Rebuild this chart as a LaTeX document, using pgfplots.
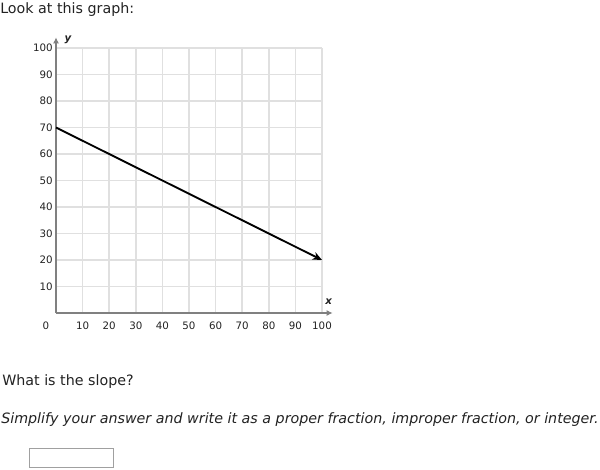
\documentclass[border=0pt]{standalone}
\usepackage{fontspec}
\setmainfont{DejaVu Sans}
\usepackage{pgfplots}
\pgfplotsset{compat=1.18}
\usetikzlibrary{arrows.meta}
\definecolor{gridc}{HTML}{E0E0E0}
\definecolor{axc}{HTML}{808080}
\definecolor{boxc}{HTML}{A0A0A0}
\definecolor{txt}{HTML}{222222}
\begin{document}
\begin{tikzpicture}[x=0.75pt,y=-0.75pt]
\path[use as bounding box] (0,0) rectangle (600,469);
\node[anchor=base west,inner sep=0pt,text=txt,font=\fontsize{10.7}{12}\selectfont] at (0,13) {Look at this graph:};
\node[anchor=base west,inner sep=0pt,text=txt,font=\fontsize{10.7}{12}\selectfont] at (2,385) {What is the slope?};
\node[anchor=base west,inner sep=0pt,text=txt,font=\fontsize{10.7}{12}\selectfont\itshape] at (1,423.5) {Simplify your answer and write it as a proper fraction, improper fraction, or integer.};
\draw[color=boxc, line width=0.75pt] (29.5,448.5) rectangle (113.5,467.5);
\begin{axis}[
  at={(42pt,-234.75pt)}, anchor=origin,
  scale only axis, width=199.5pt, height=198.75pt,
  xmin=0, xmax=100, ymin=0, ymax=100,
  axis lines=left,
  axis line style={axc, line width=1.2pt, shorten >=-8pt, -{Latex[length=4.5pt,width=4.5pt]}},
  xtick={10,20,...,100}, ytick={10,20,...,100},
  grid=major, major grid style={gridc, line width=1.1pt},
  major tick length=0pt,
  tick label style={font=\fontsize{7.7}{9}\selectfont, text=txt},
  /pgf/number format/assume math mode=true,
  xticklabel style={yshift=-3pt},
  yticklabel style={xshift=1pt},
  clip=false,
]
\addplot[black, line width=1.4pt, -{Stealth[length=7pt,width=6pt]}] coordinates {(0,70) (100,20)};
\node[anchor=north east, font=\fontsize{7.7}{9}\selectfont, text=txt, inner sep=0pt] at (axis cs:0,0) [xshift=-5pt,yshift=-6.2pt] {0};
\node[font=\fontsize{7.7}{9}\selectfont\bfseries\itshape, text=txt, anchor=south] at (axis cs:102.5,1.5) {x};
\node[font=\fontsize{7.7}{9}\selectfont\bfseries\itshape, text=txt, anchor=west] at (axis cs:1.5,103.2) {y};
\end{axis}
\end{tikzpicture}
\end{document}
